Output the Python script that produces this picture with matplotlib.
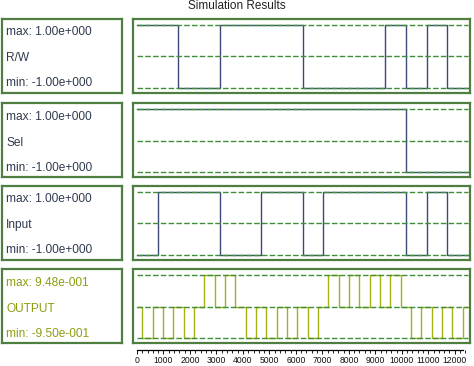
import matplotlib
matplotlib.use("Agg")
import matplotlib.pyplot as plt
from matplotlib.ticker import MultipleLocator

plt.rcParams['font.family'] = ['Liberation Sans', 'DejaVu Sans']

# --- data ---
t_end = 12500

rw_times = [0, 1563, 3125, 6250, 9375, 10156, 10938, 11719]
rw_levels = [1, -1, 1, -1, 1, -1, 1, -1]

sel_times = [0, 10156]
sel_levels = [1, -1]

input_times = [0, 781, 3125, 4688, 6250, 7031, 10156, 10938, 11719]
input_levels = [-1, 1, -1, 1, -1, 1, -1, 1, -1]

# OUTPUT: short pulses away from zero (start, end, sign)
out_start = [200, 980, 1760, 2540, 3320, 4100, 4880, 5660,
             6450, 7230, 8010, 8790, 9570, 10350, 11130, 11910]
out_end = [590, 1370, 2150, 2930, 3710, 4490, 5270, 6060,
           6840, 7620, 8400, 9180, 9960, 10740, 11520, 12300]
out_sign = [-1, -1, -1, 1, 1, -1, -1, -1, -1, 1, 1, 1, 1, -1, -1, -1]
out_max = 0.948
out_min = -0.950

names = ["R/W", "Sel", "Input", "OUTPUT"]
max_labels = ["max: 1.00e+000", "max: 1.00e+000", "max: 1.00e+000", "max: 9.48e-001"]
min_labels = ["min: -1.00e+000", "min: -1.00e+000", "min: -1.00e+000", "min: -9.50e-001"]

# --- styling ---
box_green = "#4f7f40"
dash_green = "#3f8f3a"
sig_blue = "#3d4a78"
out_yellow = "#a6b214"
text_dark = "#2f3a4f"
text_olive = "#8e9c10"


def step_xy(times, levels):
    xs, ys = [], []
    for i, lv in enumerate(levels):
        t0 = times[i]
        t1 = times[i + 1] if i + 1 < len(times) else t_end
        xs += [t0, t1]
        ys += [lv, lv]
    return xs, ys


def pulse_xy(starts, ends, signs):
    xs, ys = [0], [0]
    for s, e, sg in zip(starts, ends, signs):
        lv = out_max if sg > 0 else out_min
        xs += [s, s, e, e]
        ys += [0, lv, lv, 0]
    xs.append(t_end)
    ys.append(0)
    return xs, ys


fig = plt.figure(figsize=(4.74, 3.66), dpi=100)
fig.text(0.5, 0.983, "Simulation Results", ha="center", va="center",
         fontsize=8.5, color="#222222")

row_bottoms = [0.7459, 0.5156, 0.2896, 0.0620]
row_h = 0.2022
px = t_end / 331.0
xlim = (-4.3 * px, t_end + 2 * px)

signals = [step_xy(rw_times, rw_levels),
           step_xy(sel_times, sel_levels),
           step_xy(input_times, input_levels),
           pulse_xy(out_start, out_end, out_sign)]
ranges = [(1, -1), (1, -1), (1, -1), (out_max, out_min)]

for i in range(4):
    hi, lo = ranges[i]
    span = hi - lo
    is_out = names[i] == "OUTPUT"
    tcol = text_olive if is_out else text_dark

    # label box
    lab = fig.add_axes([0.0042, row_bottoms[i], 0.2525, row_h])
    lab.set_xticks([])
    lab.set_yticks([])
    for sp in lab.spines.values():
        sp.set_color(box_green)
        sp.set_linewidth(1.6)
    lab.text(0.035, 0.82, max_labels[i], transform=lab.transAxes,
             fontsize=8.6, color=tcol, va="center")
    lab.text(0.035, 0.47, names[i], transform=lab.transAxes,
             fontsize=8.6, color=tcol, va="center")
    lab.text(0.035, 0.13, min_labels[i], transform=lab.transAxes,
             fontsize=8.6, color=tcol, va="center")

    # signal panel
    ax = fig.add_axes([0.28, row_bottoms[i], 0.7116, row_h])
    ax.set_xticks([])
    ax.set_yticks([])
    for sp in ax.spines.values():
        sp.set_color(box_green)
        sp.set_linewidth(1.6)
    ax.set_xlim(*xlim)
    ax.set_ylim(lo - 0.085 * span, hi + 0.095 * span)
    xs, ys = signals[i]
    ax.plot(xs, ys, color=out_yellow if is_out else sig_blue, lw=1.0, zorder=2)
    for lv in (hi, 0, lo):
        ax.plot([0, t_end], [lv, lv], color=dash_green, lw=1.0,
                dashes=(4, 1.6), zorder=3)

# time ruler
rul = fig.add_axes([0.28, 0.043, 0.7116, 0.001])
rul.set_xlim(*xlim)
rul.set_yticks([])
for k in ("top", "left", "right"):
    rul.spines[k].set_visible(False)
rul.spines["bottom"].set_bounds(0, 12300)
rul.spines["bottom"].set_linewidth(0.9)
rul.xaxis.set_minor_locator(MultipleLocator(200))
rul.set_xticks(range(0, 12001, 1000))
rul.tick_params(axis="x", which="major", length=3, width=0.7, pad=1.0,
                labelsize=6.2, colors="#111111")
rul.tick_params(axis="x", which="minor", length=2, width=0.6)

fig.savefig("out.png", dpi=100)
